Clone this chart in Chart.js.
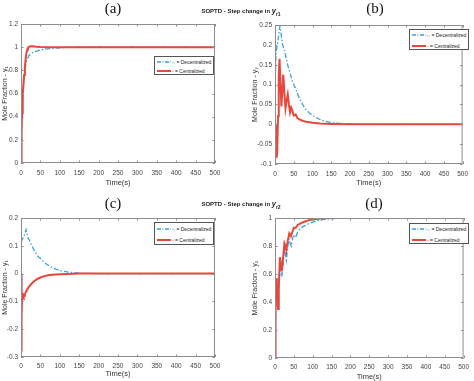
<!DOCTYPE html>
<html><head><meta charset="utf-8">
<script src="https://cdn.jsdelivr.net/npm/chart.js@4/dist/chart.umd.min.js"></script>
<style>
body{margin:0;background:#fff;width:474px;height:381px;position:relative;overflow:hidden;font-family:"Liberation Sans",Arial,sans-serif}
canvas{position:absolute}
.lab{position:absolute;font-family:"Liberation Serif","Times New Roman",serif;font-size:15px;color:#111;transform:translate(-50%,-50%);line-height:1}
.ttl{position:absolute;font-weight:bold;font-size:6px;color:#222;transform:translate(-50%,-50%);white-space:nowrap;line-height:1}
.ttl i{font-size:7.5px}
.ttl sub{font-size:5px}
.leg{position:absolute;border:1px solid #555;background:#fff;font-size:5px;color:#222;box-sizing:border-box}
.leg .it{position:absolute;left:2px;white-space:nowrap;line-height:6px;display:flex;align-items:center}
.leg svg{margin-right:1px}
</style>
</head><body>
<canvas id="ca" width="237" height="190" style="left:0;top:0"></canvas>
<canvas id="cb" width="237" height="190" style="left:237px;top:0"></canvas>
<canvas id="cc" width="237" height="191" style="left:0;top:190px"></canvas>
<canvas id="cd" width="237" height="191" style="left:237px;top:190px"></canvas>

<div class="lab" style="left:113px;top:8px">(a)</div>
<div class="lab" style="left:375px;top:8px">(b)</div>
<div class="lab" style="left:113px;top:203px">(c)</div>
<div class="lab" style="left:374px;top:203px">(d)</div>
<div class="ttl" style="left:241px;top:12px">SOPTD - Step change in <i>y</i><sub>r1</sub></div>
<div class="ttl" style="left:241px;top:205px">SOPTD - Step change in <i>y</i><sub>r2</sub></div>

<div id="legends"></div>

<script>
// ---------- data ----------
// (a) y1, step change in yr1
const timeA_dec = [0,1,2,3,4,5,6,8,10,12,15,20,25,30,40,50,60,80,100,120,150,500];
const valA_dec  = [0,0.15,0.3,0.43,0.53,0.6,0.66,0.74,0.8,0.85,0.89,0.925,0.94,0.952,0.965,0.975,0.982,0.99,0.995,0.998,1.0,1.0];
const timeA_cen = [0,1,2,3,4,5,6,8,10,12,14,16,18,20,25,30,40,50,60,80,500];
const valA_cen  = [0,0.15,0.3,0.43,0.53,0.6,0.66,0.76,0.83,0.9,0.95,0.98,0.995,1.003,1.008,1.008,1.004,1.001,1.0,1.0,1.0];
// (b) y2, step change in yr1
const timeB_dec = [0,1,2,3,5,7,10,13,16,20,25,30,35,40,45,50,55,60,70,80,90,100,120,140,160,200,250,500];
const valB_dec  = [0,0.12,0.16,0.18,0.195,0.205,0.225,0.247,0.23,0.2,0.188,0.165,0.145,0.13,0.112,0.1,0.09,0.076,0.056,0.04,0.03,0.022,0.012,0.006,0.003,0.001,0,0];
const timeB_cen = [0,2,4,6,8,10,12,14,17,20,22,25,28,31,34,37,40,43,46,50,55,60,70,80,100,120,150,200,500];
const valB_cen  = [0,-0.05,-0.085,-0.07,0.02,0.12,0.165,0.12,0.045,0.09,0.125,0.08,0.04,0.06,0.075,0.05,0.03,0.042,0.035,0.022,0.025,0.015,0.01,0.007,0.004,0.002,0.001,0,0];
// (c) y1, step change in yr2
const timeC_dec = [0,1,2,4,6,8,10,13,16,19,22,26,30,35,40,45,50,60,70,80,90,100,120,140,160,200,500];
const valC_dec  = [0,0.11,0.12,0.125,0.13,0.135,0.145,0.158,0.14,0.125,0.12,0.105,0.095,0.08,0.07,0.06,0.055,0.04,0.03,0.022,0.016,0.011,0.006,0.003,0.001,0,0];
const timeC_cen = [0,1,2,3,4,5,6,7,8,10,12,15,20,25,30,40,50,60,70,80,100,120,150,500];
const valC_cen  = [0,-0.28,-0.15,-0.08,-0.07,-0.075,-0.08,-0.083,-0.08,-0.075,-0.068,-0.06,-0.048,-0.04,-0.032,-0.021,-0.014,-0.009,-0.006,-0.004,-0.002,-0.001,0,0];
// (d) y2, step change in yr2
const timeD_dec = [0,1,2,3,5,8,10,13,16,18,21,25,28,30,34,37,40,43,47,50,55,60,65,75,90,110,130,170,500];
const valD_dec  = [0,0.25,0.4,0.45,0.42,0.4,0.48,0.65,0.62,0.58,0.66,0.78,0.74,0.7,0.8,0.85,0.82,0.8,0.86,0.88,0.86,0.9,0.92,0.94,0.96,0.98,0.99,1.0,1.0];
const timeD_cen = [0,1,2,3,5,8,10,13,16,18,21,25,28,30,34,38,42,46,50,55,60,70,80,90,100,120,150,200,500];
const valD_cen  = [0,0.3,0.5,0.57,0.45,0.35,0.5,0.72,0.66,0.62,0.7,0.82,0.8,0.77,0.84,0.89,0.87,0.9,0.93,0.93,0.95,0.965,0.975,0.985,0.99,0.996,1.0,1.0,1.0];

const xTicks = [0,50,100,150,200,250,300,350,400,450,500];
const yTicksA = [0,0.2,0.4,0.6,0.8,1,1.2];
const yTicksB = [-0.1,-0.05,0,0.05,0.1,0.15,0.2,0.25];
const yTicksC = [-0.3,-0.2,-0.1,0,0.1,0.2];
const yTicksD = [0,0.2,0.4,0.6,0.8,1];

const seriesNames = ['-. = Decentralized', '- = Centralized'];
const xLabel = 'Time(s)';

// ---------- drawing ----------
const BLUE = '#3d9fdf', RED = '#e8473c';
const pts = (t, v) => t.map((x, i) => ({x, y: v[i]}));

const framePlugin = {
  id: 'frame',
  afterDatasetsDraw(chart) {
    const {ctx, chartArea: a, scales: {x, y}} = chart;
    ctx.save();
    ctx.strokeStyle = '#8d8d8d';
    ctx.lineWidth = 1;
    ctx.strokeRect(a.left + 0.5, a.top + 0.5, a.right - a.left - 1, a.bottom - a.top - 1);
    ctx.beginPath();
    x.ticks.forEach(t => {
      const p = Math.round(x.getPixelForValue(t.value)) + 0.5;
      ctx.moveTo(p, a.bottom); ctx.lineTo(p, a.bottom - 2.5);
      ctx.moveTo(p, a.top); ctx.lineTo(p, a.top + 2.5);
    });
    y.ticks.forEach(t => {
      const p = Math.round(y.getPixelForValue(t.value)) + 0.5;
      ctx.moveTo(a.left, p); ctx.lineTo(a.left + 2.5, p);
      ctx.moveTo(a.right, p); ctx.lineTo(a.right - 2.5, p);
    });
    ctx.stroke();
    ctx.restore();
  }
};

function fmt(v) { return String(Number(v.toFixed(3))); }

function makeChart(id, dec, cen, o) {
  return new Chart(document.getElementById(id), {
    type: 'line',
    data: {
      datasets: [
        {label: seriesNames[0], data: dec, borderColor: BLUE, borderWidth: 1.3,
         borderDash: [5, 2, 1.5, 2], order: 1},
        {label: seriesNames[1], data: cen, borderColor: RED, borderWidth: 2, order: 0}
      ]
    },
    options: {
      responsive: false, animation: false, devicePixelRatio: 1,
      elements: {point: {radius: 0}, line: {tension: 0}},
      layout: {padding: {left: 0, right: o.padR, top: o.padT, bottom: 0}},
      plugins: {legend: {display: false}, tooltip: {enabled: false}},
      scales: {
        x: {
          type: 'linear', min: 0, max: 500,
          afterBuildTicks: s => { s.ticks = xTicks.map(v => ({value: v})); },
          afterFit: s => { s.height = o.xh; },
          grid: {display: false, drawTicks: false, tickLength: 0}, border: {display: false},
          ticks: {padding: o.xtp, font: {size: 6.5, family: 'Liberation Sans'}, color: '#444', maxRotation: 0, autoSkip: false},
          title: {display: true, text: xLabel, font: {size: 7.5, family: 'Liberation Sans'}, color: '#333', padding: {top: 0, bottom: o.xtitle}}
        },
        y: {
          type: 'linear', min: o.ymin, max: o.ymax,
          afterBuildTicks: s => { s.ticks = o.yt.map(v => ({value: v})); },
          afterFit: s => { s.width = o.yw; },
          grid: {display: false, drawTicks: false, tickLength: 0}, border: {display: false},
          ticks: {padding: 3, font: {size: 6.5, family: 'Liberation Sans'}, color: '#444', callback: v => fmt(v), autoSkip: false},
          title: {display: true, text: o.ylabel, font: {size: 7, family: 'Liberation Sans'}, color: '#333', padding: {top: o.ytitle, bottom: 0}}
        }
      }
    },
    plugins: [framePlugin]
  });
}

makeChart('ca', pts(timeA_dec, valA_dec), pts(timeA_cen, valA_cen),
  {ymin: 0, ymax: 1.2, yt: yTicksA, ylabel: 'Mole Fraction - y\u2081', padR: 22, padT: 24, xh: 27, yw: 21, xtp: 6, xtitle: 2.5, ytitle: 0.5});
makeChart('cb', pts(timeB_dec, valB_dec), pts(timeB_cen, valB_cen),
  {ymin: -0.1, ymax: 0.25, yt: yTicksB, ylabel: 'Mole Fraction - y\u2082', padR: 5, padT: 25, xh: 26, yw: 38, xtp: 6, xtitle: 2.5, ytitle: 13.5});
makeChart('cc', pts(timeC_dec, valC_dec), pts(timeC_cen, valC_cen),
  {ymin: -0.3, ymax: 0.2, yt: yTicksC, ylabel: 'Mole Fraction - y\u2081', padR: 22, padT: 28, xh: 24, yw: 21, xtp: 5, xtitle: 3, ytitle: 0.5});
makeChart('cd', pts(timeD_dec, valD_dec), pts(timeD_cen, valD_cen),
  {ymin: 0, ymax: 1, yt: yTicksD, ylabel: 'Mole Fraction - y\u2082', padR: 5, padT: 28, xh: 23, yw: 38, xtp: 5, xtitle: 0, ytitle: 13.5});

// ---------- legends (HTML) ----------
const legendBoxes = [
  {l: 154, t: 56, w: 60, h: 19},
  {l: 409, t: 29, w: 60, h: 21},
  {l: 154, t: 222, w: 60, h: 23},
  {l: 409, t: 223, w: 60, h: 21}
];
const host = document.getElementById('legends');
legendBoxes.forEach(b => {
  const d = document.createElement('div');
  d.className = 'leg';
  Object.assign(d.style, {left: b.l + 'px', top: b.t + 'px', width: b.w + 'px', height: b.h + 'px'});
  const gap = b.h / 4;
  [[BLUE, '4,1.5,1,1.5', 1.3], [RED, '', 2]].forEach((s, i) => {
    const it = document.createElement('div');
    it.className = 'it';
    it.style.top = (gap * (1 + 2 * i) - 3) + 'px';
    it.innerHTML = `<svg width="14" height="4"><line x1="0" y1="2" x2="14" y2="2" stroke="${s[0]}" stroke-width="${s[2]}" ${s[1] ? 'stroke-dasharray="' + s[1] + '"' : ''}/></svg><span>${seriesNames[i]}</span>`;
    d.appendChild(it);
  });
  host.appendChild(d);
});
</script>
</body></html>
